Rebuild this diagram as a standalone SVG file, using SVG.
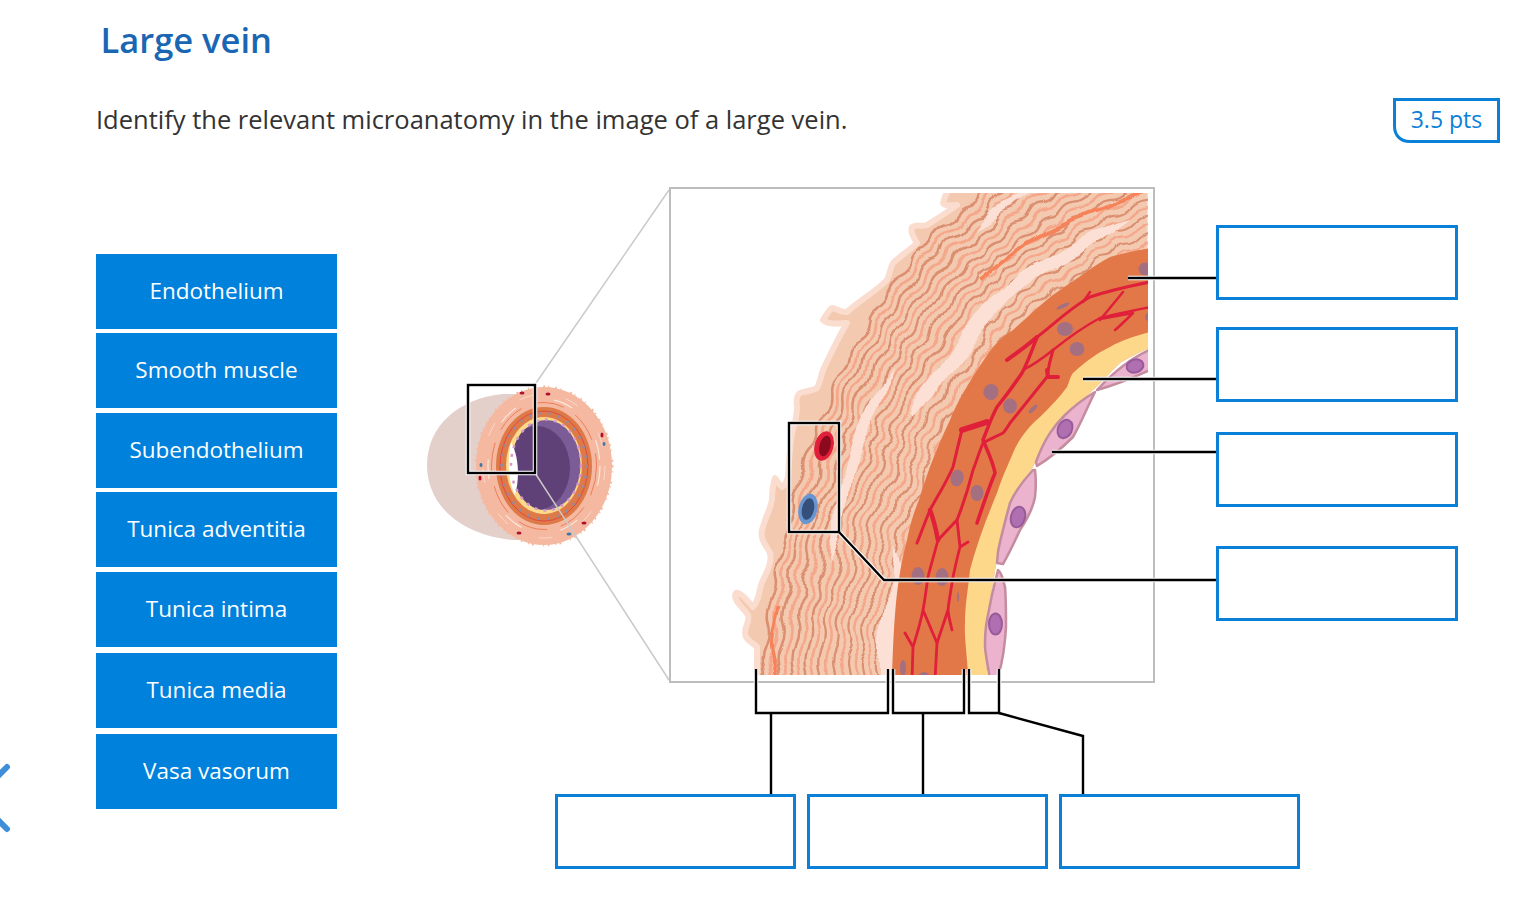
<svg xmlns="http://www.w3.org/2000/svg" width="1536" height="908" viewBox="0 0 1536 908">
<style>
text{font-family:"Open Sans","Noto Sans","Liberation Sans",sans-serif}
.btn{fill:#0081dc}
.btnt{fill:#fff;font-size:22.500px;text-anchor:middle}
.box{fill:#fff;stroke:#0a80d8;stroke-width:3}
.l1{fill:none;stroke:#db8f70;stroke-width:2;vector-effect:non-scaling-stroke}
.l2{fill:none;stroke:#f4a78a;stroke-width:2.200;vector-effect:non-scaling-stroke}
.pale{fill:#fde0d5}
.cell{fill:#ebb3ce;stroke:#c48c9e;stroke-width:2.500;stroke-linejoin:round}
.nuc{fill:#b06fb0;stroke:#995a9c;stroke-width:2}
.mn{fill:#a56f82}
.v{fill:none;stroke:#e01f3a;stroke-linecap:round;stroke-linejoin:round}
.rd{fill:#b01030}.bl{fill:#3f77a8}
</style>
<defs>
<clipPath id="artClip"><rect x="672" y="193" width="476" height="482"/></clipPath>
<clipPath id="advClip"><path id="advShape" d="M757 680L757 647C752 642 745 640 745 633C745 625 750 622 748 615C743 607 735 603 735 595C737 588 747 600 753 607C760 600 758 590 763 580C768 570 772 562 770 553C766 545 760 540 762 530C765 518 770 510 772 500C772 490 773 484 775 478C778 482 780 486 782 487C785 485 787 481 788 477C789 460 790 445 792 433C794 425 797 418 797 407C796 400 797 395 800 393C806 391 813 391 817 388C820 382 821 376 823 370C830 355 838 338 847 323C840 323 830 326 823 320C826 315 829 310 832 308C838 309 842 313 847 312C860 300 875 292 887 280C890 274 890 268 893 263C900 256 910 250 917 243C914 238 910 233 912 227C917 224 922 227 927 225C938 218 948 212 957 205C952 205 945 207 943 203C944 198 946 195 948 190L1150 190L1150 680Z"/></clipPath>
<clipPath id="lumenCut"><ellipse cx="546" cy="465" rx="35" ry="45.500"/></clipPath>
<path id="w" d="M885 690Q889.500 681 887 672Q884.500 663.500 888.500 655Q892.500 646 890 637Q887.500 629 892 620Q897 613 895 605Q893.500 597 898.500 590Q903.500 583 902 575Q900 567 905 560Q910.500 553.500 909.500 545Q908.500 536.500 914 530Q919.500 523.500 918.500 515Q917.500 506.500 923 500Q929.500 494.500 928.500 486Q927.500 477.500 934 472.500Q940.500 467.500 939.500 459Q938.500 450.500 945 445Q952 440 952.500 431Q953 422 960 417.500Q967 413 967.500 404Q968 395 975 390Q982.500 386.500 984 379Q985 371 992.500 367.500Q1000 364 1001 356Q1002.500 348.500 1010 345Q1017 343.500 1019 337Q1020.500 330.500 1027.500 328.500Q1034.500 326.500 1036 320Q1038 313.500 1045 312Q1052 311 1055 304.500Q1058 298 1065 297Q1072 296 1075 289.500Q1078 283 1085 282Q1092.500 281.500 1096 275Q1100 269 1107.500 268.500Q1115 268 1119 262Q1122.500 255.500 1130 255Q1138.500 255 1144 249Q1149.500 243 1157.500 242.500Q1165.500 242 1171 236Q1176.500 230 1185 230Q1193 231 1199 225Q1205 219 1213 220Q1221 221 1226 215Q1232 209 1240 210"/>
<filter id="wave" filterUnits="userSpaceOnUse" x="660" y="150" width="520" height="560" color-interpolation-filters="sRGB">
<feTurbulence type="fractalNoise" baseFrequency="0.018" numOctaves="1" seed="11" result="n"/>
<feDisplacementMap in="SourceGraphic" in2="n" scale="24" xChannelSelector="R" yChannelSelector="G"/>
<feGaussianBlur stdDeviation="0.4"/>
</filter>
<g id="leaderPaths" fill="none">
<path d="M1128 278H1217"/><path d="M1083 379H1217"/><path d="M1052 452H1217"/>
<path d="M839 532L884 580H1217"/>
<rect x="789" y="423" width="50" height="109"/>
<rect x="468" y="385" width="67" height="88"/>
<path d="M756 669V713H888V669"/><path d="M893 669V713H964V669"/><path d="M969 669V713H999V669"/>
<path d="M771 713V795"/><path d="M923 713V795"/><path d="M999 713L1083 736V795"/>
</g>
</defs>
<rect width="1536" height="908" fill="#fff"/>
<g id="title"><text x="100.500" y="53" font-size="34.500" font-weight="600" fill="#1a66b3">Large vein</text></g>
<g id="question"><text x="96" y="129" font-size="25.500" fill="#333">Identify the relevant microanatomy in the image of a large vein.</text></g>
<g id="points"><path d="M1394.500 99.500H1498.500V141.500H1410C1400 141.500 1394.500 135 1394.500 126Z" fill="#fff" stroke="#0a80d8" stroke-width="3"/><text x="1446.500" y="128" font-size="23" font-weight="500" text-anchor="middle" fill="#0a80d8">3.5 pts</text></g>
<g id="back"><path d="M7 767L-24 798L7 829" fill="none" stroke="#3f8fd8" stroke-width="6" stroke-linecap="round"/></g>
<g id="term-endothelium"><rect class="btn" x="96" y="254" width="241" height="75"/><text class="btnt" x="216.500" y="299">Endothelium</text></g>
<g id="term-smooth-muscle"><rect class="btn" x="96" y="333" width="241" height="75"/><text class="btnt" x="216.500" y="378">Smooth muscle</text></g>
<g id="term-subendothelium"><rect class="btn" x="96" y="413" width="241" height="75"/><text class="btnt" x="216.500" y="458">Subendothelium</text></g>
<g id="term-tunica-adventitia"><rect class="btn" x="96" y="492" width="241" height="75"/><text class="btnt" x="216.500" y="537">Tunica adventitia</text></g>
<g id="term-tunica-intima"><rect class="btn" x="96" y="572" width="241" height="75"/><text class="btnt" x="216.500" y="617">Tunica intima</text></g>
<g id="term-tunica-media"><rect class="btn" x="96" y="653" width="241" height="75"/><text class="btnt" x="216.500" y="698">Tunica media</text></g>
<g id="term-vasa-vasorum"><rect class="btn" x="96" y="734" width="241" height="75"/><text class="btnt" x="216.500" y="779">Vasa vasorum</text></g>

<g id="vein-overview">
<path d="M503 394C460 398 427 425 427 465C427 505 460 535 513 540L545 540V394Z" fill="#e3d0cb"/>
<ellipse cx="544" cy="466" rx="67" ry="78" fill="#f4b9a0" stroke="#f4b9a0" stroke-width="2"/>
<ellipse cx="544" cy="466" rx="68" ry="79" fill="none" stroke="#f4b9a0" stroke-width="3" stroke-dasharray="1.500 4 1 9 2 3 1 6"/>
<ellipse cx="544" cy="466" rx="61" ry="72" fill="none" stroke="#fbd9cb" stroke-width="1" stroke-dasharray="14 34"/>
<ellipse cx="544" cy="466" rx="56" ry="67" fill="none" stroke="#fde5da" stroke-width="1.200" stroke-dasharray="20 40"/>
<ellipse cx="544" cy="466" rx="52.500" ry="63.500" fill="none" stroke="#ee7d58" stroke-width="1" stroke-dasharray="30 14"/>
<ellipse cx="544" cy="466" rx="48" ry="59" fill="#dd7a47"/>
<ellipse cx="544" cy="466" rx="44" ry="55" fill="none" stroke="#e43a3e" stroke-width="0.800"/>
<ellipse cx="544" cy="466" rx="42.500" ry="53" fill="none" stroke="#8f8ba8" stroke-width="3" stroke-dasharray="2 8"/>
<ellipse cx="544" cy="465.500" rx="38" ry="48.500" fill="#fdd98a"/>
<ellipse cx="546" cy="465" rx="34.500" ry="45" fill="#7c5c96"/>
<g clip-path="url(#lumenCut)"><ellipse cx="537" cy="468" rx="33" ry="42" fill="#5f4077"/></g>
<path d="M511 442C507 460 508 482 515 495C519 482 520 458 511 442Z" fill="#fff"/>
<ellipse cx="546" cy="465" rx="35" ry="45.500" fill="none" stroke="#d59ac9" stroke-width="2.500" stroke-dasharray="3 6"/>
<g class="rd"><ellipse cx="522" cy="393" rx="2.500" ry="1.500"/><ellipse cx="548" cy="394" rx="2.500" ry="1.500"/><ellipse cx="602" cy="435" rx="1.500" ry="2.500"/><ellipse cx="480" cy="478" rx="1.500" ry="2.500"/><ellipse cx="519" cy="533" rx="2.500" ry="1.500"/><ellipse cx="584" cy="523" rx="2.500" ry="1.500"/></g>
<g class="bl"><ellipse cx="604" cy="444" rx="1.500" ry="2"/><ellipse cx="481" cy="465" rx="1.500" ry="2"/><ellipse cx="569" cy="534" rx="2.500" ry="1.500"/></g>
</g>

<g id="zoom-guides" stroke="#cacaca" stroke-width="1.500" fill="none">
<path d="M536 383L669 190"/><path d="M535 473L669 680"/>
</g>
<g id="zoom-panel">
<rect x="670" y="188" width="484" height="494" fill="#fff" stroke="#bdbdbd" stroke-width="2"/>
<g clip-path="url(#artClip)">
<use href="#advShape" fill="#f3c9b0" stroke="#fbddd0" stroke-width="6" stroke-linejoin="round"/>
<g clip-path="url(#advClip)">
<g filter="url(#wave)">
<use href="#w" class="l2" transform="matrix(1.010 0 0 1.010 -13.200 -6.900)"/>
<use href="#w" class="l1" transform="matrix(1.026 0 0 1.026 -34.300 -17.900)"/>
<use href="#w" class="l2" transform="matrix(1.042 0 0 1.042 -55.400 -29.000)"/>
<use href="#w" class="l1" transform="matrix(1.058 0 0 1.058 -76.600 -40.000)"/>
<use href="#w" class="l2" transform="matrix(1.074 0 0 1.074 -97.700 -51.100)"/>
<use href="#w" class="l1" transform="matrix(1.090 0 0 1.090 -118.800 -62.100)"/>
<use href="#w" class="l2" transform="matrix(1.106 0 0 1.106 -139.900 -73.100)"/>
<use href="#w" class="l1" transform="matrix(1.122 0 0 1.122 -161.000 -84.200)"/>
<use href="#w" class="l2" transform="matrix(1.138 0 0 1.138 -182.200 -95.200)"/>
<use href="#w" class="l1" transform="matrix(1.154 0 0 1.154 -203.300 -106.300)"/>
<use href="#w" class="l2" transform="matrix(1.170 0 0 1.170 -224.400 -117.300)"/>
<use href="#w" class="l1" transform="matrix(1.186 0 0 1.186 -245.500 -128.300)"/>
<use href="#w" class="l2" transform="matrix(1.202 0 0 1.202 -266.600 -139.400)"/>
<use href="#w" class="l1" transform="matrix(1.218 0 0 1.218 -287.800 -150.400)"/>
<use href="#w" class="l2" transform="matrix(1.234 0 0 1.234 -308.900 -161.500)"/>
<use href="#w" class="l1" transform="matrix(1.250 0 0 1.250 -330.000 -172.500)"/>
<use href="#w" class="l2" transform="matrix(1.266 0 0 1.266 -351.100 -183.500)"/>
<use href="#w" class="l1" transform="matrix(1.282 0 0 1.282 -372.200 -194.600)"/>
<path d="M1150 192C1125 197 1110 208 1093 213C1070 222 1050 230 1027 243C1010 255 995 268 977 283" fill="none" stroke="#f58258" stroke-width="3.500" stroke-linecap="round"/>
<path d="M778 607C774 625 770 640 772 650C774 662 777 670 778 680" fill="none" stroke="#f58258" stroke-width="3"/>
<path class="pale" d="M1130 219C1115 222 1103 231 1093 232C1070 245 1045 260 1027 271C1010 285 1000 292 990 300C975 318 965 328 957 340C940 365 930 380 920 393C916 403 916 408 917 414C925 405 930 402 935 396C945 375 955 365 965 352C978 335 990 325 1000 312C1012 298 1022 290 1032 284C1050 272 1075 255 1095 244C1110 238 1120 228 1130 219Z"/>
<path class="pale" d="M1037 193C1015 200 1005 207 990 211C982 218 977 224 973 230C985 225 995 220 1003 214C1015 207 1028 200 1040 193Z"/>
<path class="pale" d="M893 370C885 385 880 392 871 405C865 415 860 420 855 432C848 450 845 462 841 478C838 495 836 515 836 532C833 545 832 552 830 562C834 555 838 548 841 540C846 522 848 500 851 478C855 465 860 450 866 437C872 422 880 410 886 396C889 388 891 380 893 370Z"/>
<path class="pale" d="M895 547C892 560 890 572 889 585C886 600 883 615 881 635C879 650 880 665 880 690H905L903 593C902 578 898 562 895 547Z"/>
</g>
</g>
<path id="media" fill="#e27848" d="M892 680C893 640 895 610 897 593C900 570 903 555 907 540C911 520 915 510 920 497C928 470 938 445 950 420C960 395 980 365 993 347C1000 340 1005 335 1013 330C1030 315 1045 300 1060 290C1078 278 1095 265 1110 257C1122 253 1135 251 1150 248V680Z"/>
<g id="media-nuclei" class="mn">
<ellipse cx="957" cy="478" rx="6.500" ry="8.500" transform="rotate(12 957 478)"/>
<ellipse cx="977" cy="493" rx="6.500" ry="8"/>
<ellipse cx="918" cy="576" rx="6.500" ry="9"/>
<ellipse cx="942" cy="577" rx="6.500" ry="9"/>
<ellipse cx="903" cy="668" rx="3" ry="8"/>
<ellipse cx="924" cy="678" rx="6" ry="6"/>
<ellipse cx="991" cy="392" rx="7.500" ry="8" transform="rotate(20 991 392)"/>
<ellipse cx="1010" cy="406" rx="7" ry="7.500"/>
<ellipse cx="1065" cy="329" rx="8" ry="7"/>
<ellipse cx="1077" cy="349" rx="7.500" ry="7"/>
<ellipse cx="1145" cy="269" rx="6.500" ry="6.500"/>
<ellipse cx="1149" cy="317" rx="4" ry="4"/>
<ellipse cx="1063" cy="306" rx="7" ry="2" transform="rotate(-25 1063 306)"/>
<ellipse cx="1033" cy="409" rx="6" ry="2" transform="rotate(-45 1033 409)"/>
<ellipse cx="958" cy="597" rx="1" ry="5"/>
</g>
<g id="vessels" class="v">
<path stroke-width="3" d="M1150 282C1125 287 1105 292 1090 297C1070 308 1052 326 1037 337"/>
<path stroke-width="4" d="M1037 337C1028 345 1018 352 1007 360"/>
<path stroke-width="3.500" d="M1037 337C1032 350 1028 362 1022 373C1012 388 1005 397 997 407C991 418 987 430 983 440C988 452 993 462 995 473C988 490 983 505 977 523"/>
<path stroke-width="2.500" d="M1090 292L1083 302"/>
<path stroke-width="2.500" d="M1150 307C1130 311 1115 314 1100 318C1085 326 1068 338 1053 350C1043 358 1033 365 1023 370"/>
<path stroke-width="2.500" d="M1123 292L1100 320M1133 313C1126 320 1120 326 1115 330M1100 319L1133 313"/>
<path stroke-width="3" d="M1053 350C1050 360 1048 370 1047 377C1035 392 1022 408 1010 423C1007 428 1005 431 1003 433C995 437 988 440 983 443C978 455 976 463 973 470C968 490 963 505 957 520C950 527 944 534 938 540"/>
<path stroke-width="4" d="M1047 370L1048 377L1058 377"/>
<path stroke-width="6" d="M962 430L987 422"/>
<path stroke-width="3" d="M962 430C958 445 956 455 953 467C945 485 937 497 930 510C925 522 921 533 917 543"/>
<path stroke-width="4.500" d="M930 510C934 520 936 530 938 540"/>
<path stroke-width="2.800" d="M957 520L960 547L968 542M960 547C957 558 955 568 953 577C951 590 949 600 948 610C949 620 951 625 952 630M948 610L937 643"/>
<path stroke-width="2.800" d="M938 540C934 555 931 565 928 577C926 590 925 600 923 610C920 625 916 637 913 647L912 680M913 647L905 633M923 610L937 643L935 680"/>
</g>
<path id="subendothelium" fill="#fdd78a" d="M968 680C968 660 964 640 965 623C965 605 968 590 970 570C978 540 988 515 997 493C1003 475 1008 465 1013 453C1018 440 1030 425 1040 417C1050 407 1060 397 1067 387C1070 380 1070 377 1073 373C1085 362 1097 353 1110 347C1122 340 1135 336 1150 332V348C1140 352 1130 357 1120 363C1110 372 1102 382 1093 390C1078 405 1062 420 1047 437C1041 447 1038 457 1033 467C1025 480 1017 490 1010 503C1005 522 1000 542 997 560C995 570 994 578 993 583C990 600 987 620 985 637C985 650 986 665 988 680Z"/>
<path id="lumen" fill="#fff" d="M1150 348C1140 352 1130 357 1120 363C1110 372 1102 382 1093 390C1078 405 1062 420 1047 437C1041 447 1038 457 1033 467C1025 480 1017 490 1010 503C1005 522 1000 542 997 560C995 570 994 578 993 583C990 600 987 620 985 637C985 650 986 665 988 680H1152V348Z"/>
<g id="endothelium">
<path class="cell" d="M1097 390C1110 376 1130 358 1152 349V369C1135 377 1115 385 1097 390Z"/>
<path class="cell" d="M1095 392C1085 398 1075 405 1065 415C1055 425 1045 437 1036 462L1037 466C1050 458 1062 448 1073 437C1080 425 1086 410 1095 392Z"/>
<path class="cell" d="M1033 470C1022 482 1015 492 1010 503C1005 522 1000 540 998 552L997 563L1003 564C1010 552 1015 541 1020 530C1028 518 1033 508 1035 497C1036 488 1036 478 1035 470Z"/>
<path class="cell" d="M998 570C994 585 990 603 987 620C985 630 985 640 985 647C986 658 988 666 990 680H997C1002 665 1005 645 1006 627C1006 612 1006 598 1005 587C1003 578 1001 572 998 570Z"/>
<ellipse class="nuc" cx="1135" cy="366" rx="8.500" ry="6.500" transform="rotate(-15 1135 366)"/>
<ellipse class="nuc" cx="1065" cy="429" rx="7" ry="9.500" transform="rotate(25 1065 429)"/>
<ellipse class="nuc" cx="1018" cy="517" rx="7" ry="10.500" transform="rotate(15 1018 517)"/>
<ellipse class="nuc" cx="995.500" cy="624" rx="6.500" ry="10.500"/>
</g>
<g id="vasa">
<ellipse cx="824" cy="446" rx="9.500" ry="15" transform="rotate(15 824 446)" fill="#e01f3a"/>
<ellipse cx="825" cy="446" rx="5.500" ry="10.500" transform="rotate(15 825 446)" fill="#8b0a1e"/>
<ellipse cx="808" cy="509" rx="9.500" ry="15.500" transform="rotate(12 808 509)" fill="#6a96cf"/>
<ellipse cx="808" cy="509" rx="6" ry="11" transform="rotate(12 808 509)" fill="#34507b"/>
</g>
</g>
</g>
<g id="connectors">
<use href="#leaderPaths" stroke="#fff" stroke-width="4.500"/>
<use href="#leaderPaths" stroke="#000" stroke-width="2.400"/>
</g>
<g id="drop-1"><rect class="box" x="1217.500" y="226.500" width="239" height="72"/></g>
<g id="drop-2"><rect class="box" x="1217.500" y="328.500" width="239" height="72"/></g>
<g id="drop-3"><rect class="box" x="1217.500" y="433.500" width="239" height="72"/></g>
<g id="drop-4"><rect class="box" x="1217.500" y="547.500" width="239" height="72"/></g>
<g id="drop-5"><rect class="box" x="556.500" y="795.500" width="238" height="72"/></g>
<g id="drop-6"><rect class="box" x="808.500" y="795.500" width="238" height="72"/></g>
<g id="drop-7"><rect class="box" x="1060.500" y="795.500" width="238" height="72"/></g>
</svg>
